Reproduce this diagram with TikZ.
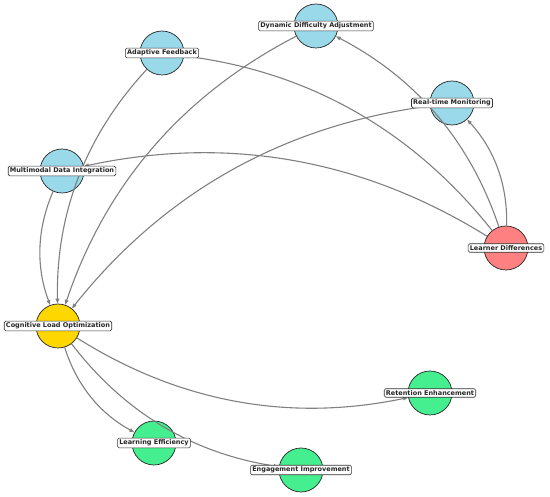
\documentclass[tikz,border=0pt]{standalone}
\usepackage{fontspec}
\setmainfont{DejaVu Sans}
\usetikzlibrary{arrows.meta}
\definecolor{nblue}{HTML}{99D9EA}
\definecolor{nred}{HTML}{FF8080}
\definecolor{ngold}{HTML}{FFD700}
\definecolor{ngreen}{HTML}{45EF8F}
\definecolor{egray}{HTML}{808080}
\tikzset{
  circ/.style={circle, draw=black!85, line width=0.7pt, minimum size=44pt, inner sep=0pt},
  lbl/.style={fill=white, draw=black!80, line width=0.6pt, rounded corners=1.5pt, inner sep=1.7pt,
              font=\fontsize{6.5}{7.5}\selectfont\bfseries, text=black!85},
  edge/.style={draw=egray, line width=1.1pt, -{Triangle[length=5pt,width=3.6pt]}, bend right=22, looseness=0.92}
}
\begin{document}
\begin{tikzpicture}[x=1pt, y=-1pt]
\useasboundingbox (0,0) rectangle (550,497);
% circles
\node[circ, fill=nblue] (dda) at (316,26) {};
\node[circ, fill=nblue] (af) at (162,53) {};
\node[circ, fill=nblue] (rtm) at (452,103) {};
\node[circ, fill=nblue] (mdi) at (62,171) {};
\node[circ, fill=nred] (ld) at (506,248) {};
\node[circ, fill=ngold] (clo) at (58,326) {};
\node[circ, fill=ngreen] (re) at (430,393) {};
\node[circ, fill=ngreen] (le) at (154,443) {};
\node[circ, fill=ngreen] (ei) at (301,470) {};
% edges
\path (af) edge[edge] (clo);
\path (mdi) edge[edge] (clo);
\path (dda) edge[edge] (clo);
\path (rtm) edge[edge] (clo);
\path (ld) edge[edge] (dda);
\path (ld) edge[edge] (rtm);
\path (ld) edge[edge] (af);
\path (ld) edge[edge] (mdi);
\path (clo) edge[edge] (le);
\path (clo) edge[edge] (ei);
\path (clo) edge[edge] (re);
% labels
\node[lbl] (tdda) at (dda.center) {Dynamic Difficulty Adjustment};
\node[lbl] (taf) at (af.center) {Adaptive Feedback};
\node[lbl] (trtm) at (rtm.center) {Real-time Monitoring};
\node[lbl] (tmdi) at (mdi.center) {Multimodal Data Integration};
\node[lbl] (tld) at (ld.center) {Learner Differences};
\node[lbl] (tclo) at (clo.center) {Cognitive Load Optimization};
\node[lbl] (tre) at (re.center) {Retention Enhancement};
\node[lbl] (tle) at (le.center) {Learning Efficiency};
\node[lbl] (tei) at (ei.center) {Engagement Improvement};
\end{tikzpicture}
\end{document}
